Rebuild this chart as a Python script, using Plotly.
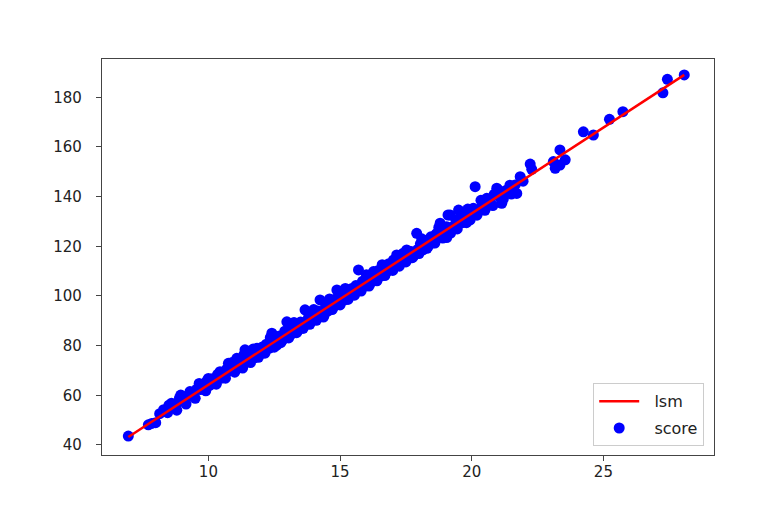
import plotly.graph_objects as go

# Scatter data (x: feature, y: score)
x_vals = [6.96, 7.72, 7.85, 8.15, 8.3, 8.45, 8.6, 8.75, 8.9, 8.95, 9.05, 9.2, 9.3, 9.4, 9.55, 9.65, 9.7, 9.85, 9.95,
          10.05, 10.15, 10.25, 10.35, 10.44, 10.5, 10.6, 10.7, 10.76, 10.85, 10.95, 11.05, 11.08, 11.15, 11.25, 11.35, 11.39, 11.45, 11.55, 11.65, 11.75, 11.85, 11.95,
          12.05, 12.1, 12.2, 12.3, 12.41, 12.45, 12.55, 12.6, 12.7, 12.8, 12.9, 12.98, 13.0, 13.1, 13.2, 13.3, 13.4, 13.5, 13.55, 13.67, 13.7, 13.8, 13.9, 13.95,
          14.05, 14.15, 14.24, 14.3, 14.37, 14.45, 14.55, 14.65, 14.75, 14.85, 14.88, 14.95, 15.05, 15.15, 15.25, 15.35, 15.45, 15.5, 15.6, 15.7, 15.75, 15.85, 15.95,
          16.05, 16.15, 16.27, 16.35, 16.45, 16.55, 16.65, 16.75, 16.85, 16.95, 17.03, 17.1, 17.2, 17.3, 17.4, 17.53, 17.6, 17.7, 17.8, 17.91, 17.95,
          18.05, 18.15, 18.25, 18.35, 18.45, 18.55, 18.65, 18.8, 18.85, 18.95, 19.05, 19.05, 19.1, 19.18, 19.3, 19.4, 19.5, 19.56, 19.65, 19.75, 19.94,
          20.06, 20.13, 20.25, 20.4, 20.57, 20.7, 20.85, 20.95, 21.05, 21.14, 21.3, 21.45, 21.55, 21.65, 21.71, 21.84, 21.95,
          22.22, 22.28, 23.1, 23.17, 23.35, 23.55, 23.35, 24.24, 24.62, 25.23, 25.74, 27.26, 27.43, 28.07,
          8.0, 8.8, 9.15, 9.5, 9.9, 10.3, 10.65, 11.0, 11.3, 11.6, 11.9, 12.15, 12.5, 12.75, 13.05, 13.35, 13.6, 13.85,
          14.1, 14.4, 14.7, 15.0, 15.3, 15.55, 15.8, 16.1, 16.4, 16.7, 17.0, 17.25, 17.5, 17.75, 18.0, 18.3, 18.6, 18.9,
          19.2, 19.45, 19.8, 20.2, 20.5, 20.8, 21.2, 21.5,
          8.5, 9.0, 10.0, 10.9, 11.7, 12.35, 13.25, 14.0, 14.6, 15.2, 16.0, 16.6, 17.15, 18.1, 18.75, 19.85, 20.35, 21.0]
y_vals = [43.6, 48.1, 48.7, 52.6, 54.2, 53.0, 56.8, 55.5, 58.9, 60.1, 57.6, 59.4, 61.5, 60.2, 62.4, 64.8, 62.3, 63.4, 65.9,
          64.0, 66.7, 65.6, 68.4, 69.5, 66.9, 68.8, 70.6, 72.9, 69.9, 71.8, 73.6, 74.9, 72.1, 74.2, 76.4, 78.3, 73.9, 75.5, 77.8, 75.1, 78.9, 77.2,
          79.5, 77.0, 80.6, 78.9, 85.0, 81.0, 82.8, 80.2, 83.9, 82.0, 85.8, 89.6, 83.5, 86.4, 84.9, 88.1, 86.2, 89.5, 87.0, 94.4, 88.6, 91.3, 89.7, 92.8,
          91.0, 93.9, 98.4, 92.6, 91.5, 95.8, 94.0, 97.4, 95.5, 98.9, 102.4, 97.0, 100.0, 98.3, 101.8, 99.6, 103.0, 100.8, 104.2, 110.5, 102.5, 105.9, 104.0,
          107.4, 105.1, 109.8, 107.0, 110.3, 108.0, 111.5, 109.4, 113.0, 110.8, 114.5, 112.0, 115.6, 113.3, 117.2, 118.5, 115.0, 117.9, 116.2, 125.2, 118.7,
          121.0, 118.6, 122.3, 120.0, 123.8, 121.4, 125.0, 129.3, 123.9, 127.2, 127.9, 123.5, 132.6, 132.6, 128.0, 130.5, 134.6, 133.9, 129.5, 131.8, 130.6,
          135.3, 144.0, 134.5, 136.7, 139.3, 137.5, 140.9, 143.4, 139.8, 137.3, 142.5, 144.6, 141.5, 144.7, 141.3, 148.0, 146.2,
          153.1, 151.0, 154.1, 151.4, 158.8, 154.8, 152.7, 166.1, 164.8, 171.1, 174.2, 181.8, 187.2, 189.0,
          49.0, 54.0, 56.5, 58.8, 61.8, 64.5, 66.9, 69.3, 71.0, 73.2, 75.3, 77.0, 79.4, 81.2, 83.1, 85.2, 87.0, 88.6,
          90.2, 92.3, 94.5, 96.4, 98.6, 100.3, 102.0, 104.0, 106.1, 108.2, 110.3, 112.0, 113.7, 115.4, 117.1, 119.2, 121.3, 123.3,
          125.3, 127.0, 129.5, 132.5, 134.5, 136.4, 139.0, 141.0,
          56.0, 59.7, 66.8, 73.2, 78.6, 83.2, 89.3, 94.5, 98.8, 103.0, 108.5, 112.6, 116.5, 123.0, 127.6, 135.0, 138.5, 142.8]

# Least-squares fit line endpoints (x range of the data)
fit_x = [6.96, 28.07]
fit_slope = 6.905
fit_intercept = -4.83
fit_y = [fit_slope * v + fit_intercept for v in fit_x]

x_ticks = [10, 15, 20, 25]
y_ticks = [40, 60, 80, 100, 120, 140, 160, 180]

fig = go.Figure()
fig.add_trace(go.Scatter(x=x_vals, y=y_vals, mode="markers", name="\u00a0\u00a0score",
                         marker=dict(color="#0000FF", size=11, line=dict(width=0)),
                         legendgroup="score", legendrank=2))
fig.add_trace(go.Scatter(x=fit_x, y=fit_y, mode="lines", name="\u00a0\u00a0lsm",
                         line=dict(color="#FF0000", width=2.5),
                         legendgroup="lsm", legendrank=1))

axis_common = dict(showgrid=False, zeroline=False, showline=True, mirror=True,
                   linecolor="#444", linewidth=1.3, ticks="outside", ticklen=5,
                   tickcolor="#444", tickwidth=1.3,
                   tickfont=dict(family="DejaVu Sans", size=15, color="#222"))

fig.update_xaxes(range=[5.96, 29.2], tickvals=x_ticks, ticklabelstandoff=-2, **axis_common)
fig.update_yaxes(range=[35.97, 195.4], tickvals=y_ticks, ticklabelstandoff=11, **axis_common)

fig.update_layout(
    width=768, height=521,
    margin=dict(l=94, r=62, t=51, b=74),
    paper_bgcolor="white", plot_bgcolor="white",
    showlegend=True,
    legend=dict(x=0.984, y=0.022, xanchor="right", yanchor="bottom",
                bgcolor="white", bordercolor="#ccc", borderwidth=1,
                itemwidth=40,
                font=dict(family="DejaVu Sans", size=16, color="#222"),
                tracegroupgap=3),
)

fig.write_html("out.html")
